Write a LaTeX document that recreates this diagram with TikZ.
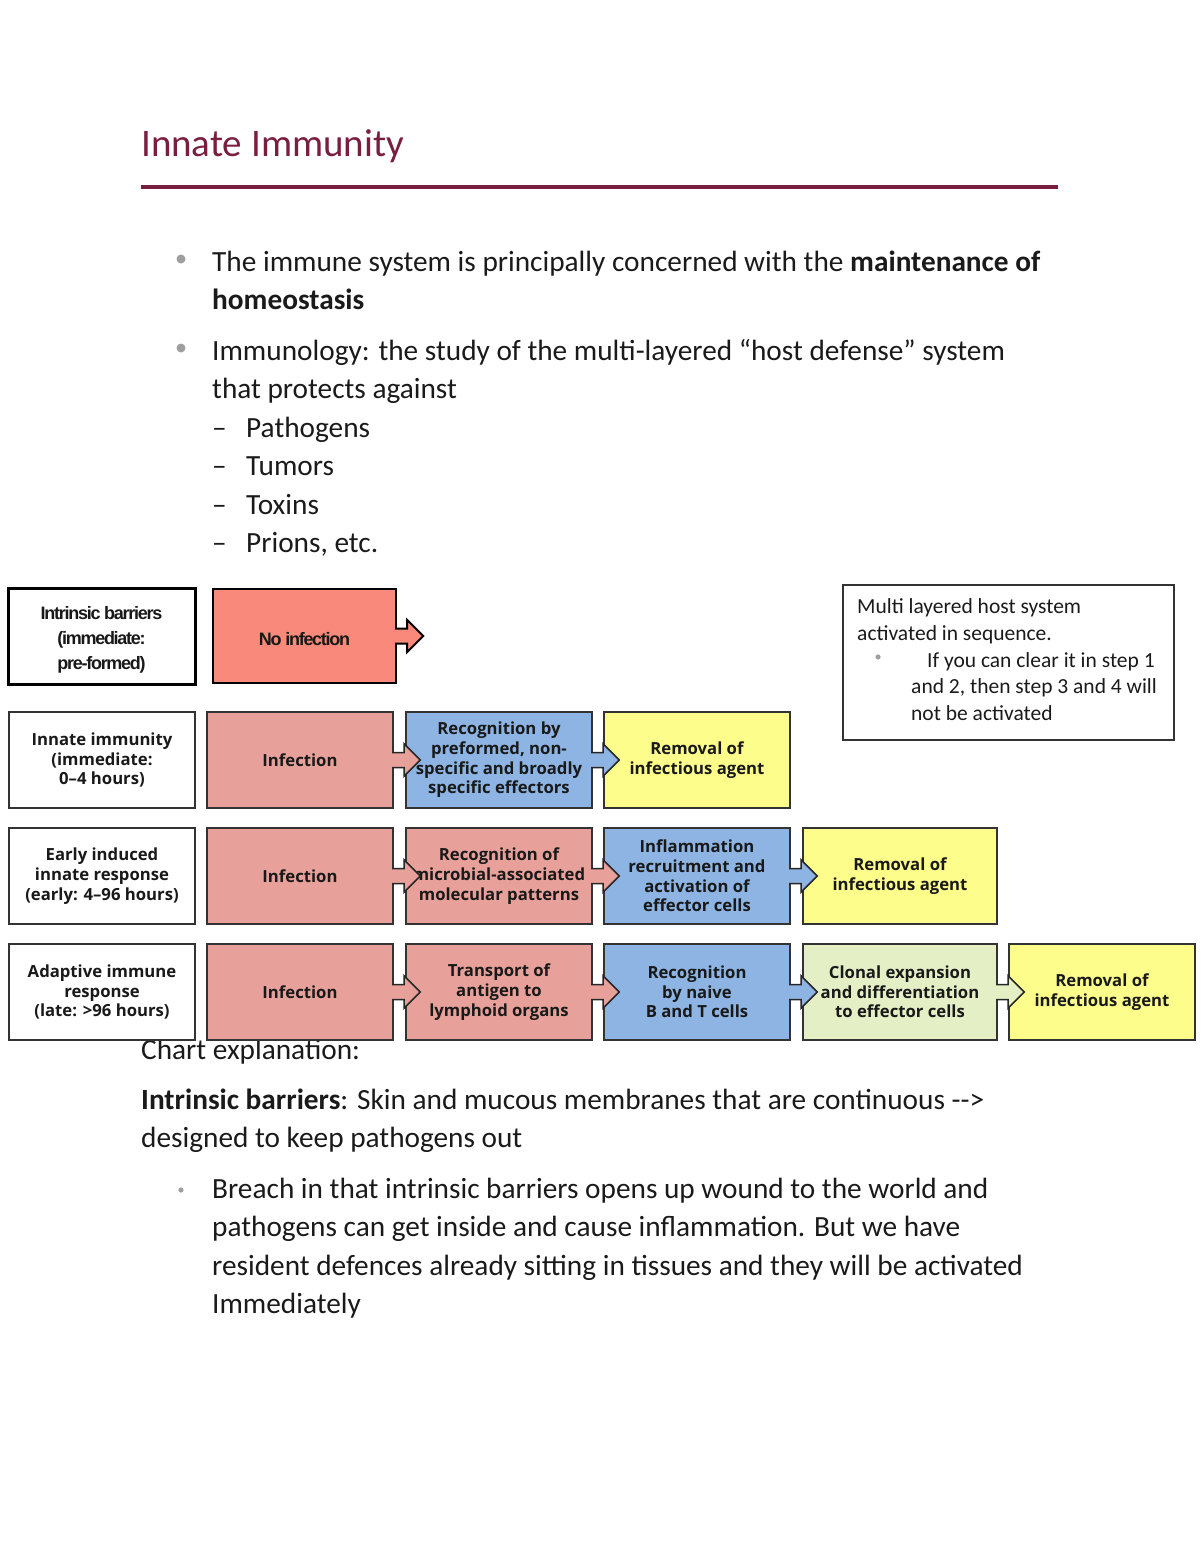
\documentclass[tikz,border=0pt]{standalone}
\usepackage{fontspec}
\setmainfont{Carlito}
\newfontfamily\chartfont{Open Sans}
\newfontfamily\tightfont[LetterSpace=-7]{Liberation Sans}
\usetikzlibrary{positioning, calc}

\definecolor{maroon}{RGB}{122,30,64}
\definecolor{nocol}{RGB}{249,137,122}
\definecolor{infcol}{RGB}{231,161,154}
\definecolor{bluecol}{RGB}{141,180,227}
\definecolor{yelcol}{RGB}{253,253,140}
\definecolor{grncol}{RGB}{228,239,198}
\definecolor{bodytext}{RGB}{26,26,26}

\begin{document}
\begin{tikzpicture}[x=1pt, y=-1pt,
  body/.style={anchor=base west, inner sep=0, text=bodytext,
    font=\fontsize{29.3}{38.5}\selectfont},
  notetext/.style={anchor=base west, inner sep=0, text=bodytext,
    font=\fontsize{21.5}{26.5}\selectfont},
  stage/.style={draw=black!80, line width=1.5pt, minimum width=186pt,
    minimum height=96pt, inner sep=2pt, outer sep=0pt, align=center, text=black!90,
    font=\chartfont\bfseries\fontsize{16.7}{19.7}\selectfont},
  rowhead/.style={stage, fill=white},
  tighttext/.style={align=center, text=black!90, yshift=-4pt,
    font=\tightfont\bfseries\fontsize{18}{25}\selectfont},
  flow/.style={draw=black!85, line width=1.5pt, line join=miter,
    to path={($(\tikztostart.east)+(-0.8,-7.5)$) -- ++(12,0) -- ++(0,-8.5)
      -- ++(16,16) -- ++(-16,16) -- ++(0,-8.5) -- ++(-12,0)}}]

  \useasboundingbox (0,0) rectangle (1200,1553);

  % page text
  \node[body, text=maroon, font=\fontsize{39}{44}\selectfont] (title) at (141,156) {Innate Immunity};
  \draw[maroon, line width=4pt] (141,187) -- (1058,187);

  \fill[gray!75] (181,259) circle (4.5);
  \node[body] (l1) at (212,271) {The immune system is principally concerned with the \textbf{maintenance of}};
  \node[body] (l2) at (212,309) {\textbf{homeostasis}};
  \fill[gray!75] (181,348) circle (4.5);
  \node[body] (l3) at (212,360) {Immunology: the study of the multi-layered “host defense” system};
  \node[body] (l4) at (212,398) {that protects against};
  \node[body] (d1) at (212,437) {–};  \node[body] (i1) at (246,437) {Pathogens};
  \node[body] (d2) at (212,475) {–};  \node[body] (i2) at (246,475) {Tumors};
  \node[body] (d3) at (212,514) {–};  \node[body] (i3) at (246,514) {Toxins};
  \node[body] (d4) at (212,552) {–};  \node[body] (i4) at (246,552) {Prions, etc.};

  \node[body] (expl) at (141,1059) {Chart explanation:};
  \node[body] (b1) at (141,1109) {\textbf{Intrinsic barriers}: Skin and mucous membranes that are continuous -{}->};
  \node[body] (b2) at (141,1147) {designed to keep pathogens out};
  \fill[gray!75] (181,1190) circle (2.6);
  \node[body] (b3) at (212,1198) {Breach in that intrinsic barriers opens up wound to the world and};
  \node[body] (b4) at (212,1236) {pathogens can get inside and cause inflammation. But we have};
  \node[body] (b5) at (212,1275) {resident defences already sitting in tissues and they will be activated};
  \node[body] (b6) at (212,1313) {Immediately};

  % side note
  \node[draw=black!80, line width=1.2pt, minimum width=331pt, minimum height=155pt, inner sep=0] (notebox) at (1008.5,662.5) {};
  \node[notetext] (n1) at (857,613) {Multi layered host system};
  \node[notetext] (n2) at (857,640) {activated in sequence.};
  \fill[gray!75] (878,657) circle (2.6);
  \node[notetext] (n3) at (927,667) {If you can clear it in step 1};
  \node[notetext] (n4) at (911,693) {and 2, then step 3 and 4 will};
  \node[notetext] (n5) at (911,720) {not be activated};

  % chart
  \node[rowhead, line width=3pt, draw=black, minimum width=187pt] (head1) at (101.5,636) {};
  \node[tighttext] (head1txt) at (head1) {Intrinsic barriers\\(immediate:\\pre-formed)};
  \node[stage, fill=nocol, draw=black, line width=2pt, minimum width=183pt, minimum height=94pt,
    right=18pt of head1] (noinf) {};
  \node[tighttext, yshift=1pt] (noinftxt) at (noinf) {No infection};
  \coordinate[right=30pt of noinf] (exit1);

  \node[rowhead] (head2) at (102,760) {Innate immunity\\(immediate:\\0–4 hours)};
  \node[stage, fill=infcol, right=12pt of head2] (inf2) {Infection};
  \node[stage, fill=bluecol, right=13pt of inf2] (rec2) {Recognition by\\preformed, non-\\specific and broadly\\specific effectors};
  \node[stage, fill=yelcol, right=12pt of rec2] (rem2) {Removal of\\infectious agent};

  \node[rowhead] (head3) at (102,876) {Early induced\\innate response\\(early: 4–96 hours)};
  \node[stage, fill=infcol, right=12pt of head3] (inf3) {Infection};
  \node[stage, fill=infcol, right=13pt of inf3] (mamp3) {Recognition of\\microbial-associated\\molecular patterns};
  \node[stage, fill=bluecol, right=12pt of mamp3] (infl3) {Inflammation\\recruitment and\\activation of\\effector cells};
  \node[stage, fill=yelcol, minimum width=194pt, right=13pt of infl3] (rem3) {Removal of\\infectious agent};

  \node[rowhead] (head4) at (102,992) {Adaptive immune\\response\\(late: >96 hours)};
  \node[stage, fill=infcol, right=12pt of head4] (inf4) {Infection};
  \node[stage, fill=infcol, right=13pt of inf4] (trans4) {Transport of\\antigen to\\lymphoid organs};
  \node[stage, fill=bluecol, right=12pt of trans4] (naive4) {Recognition\\by naive\\B and T cells};
  \node[stage, fill=grncol, minimum width=194pt, right=13pt of naive4] (clonal4) {Clonal expansion\\and differentiation\\to effector cells};
  \node[stage, fill=yelcol, right=12pt of clonal4] (rem4) {Removal of\\infectious agent};

  \path
    (noinf) edge [flow, fill=nocol, draw=black, line width=2pt] (exit1)
    (inf2) edge [flow, fill=infcol] (rec2)
    (rec2) edge [flow, fill=bluecol] (rem2)
    (inf3) edge [flow, fill=infcol] (mamp3)
    (mamp3) edge [flow, fill=infcol] (infl3)
    (infl3) edge [flow, fill=bluecol] (rem3)
    (inf4) edge [flow, fill=infcol] (trans4)
    (trans4) edge [flow, fill=infcol] (naive4)
    (naive4) edge [flow, fill=bluecol] (clonal4)
    (clonal4) edge [flow, fill=grncol] (rem4);
\end{tikzpicture}
\end{document}
